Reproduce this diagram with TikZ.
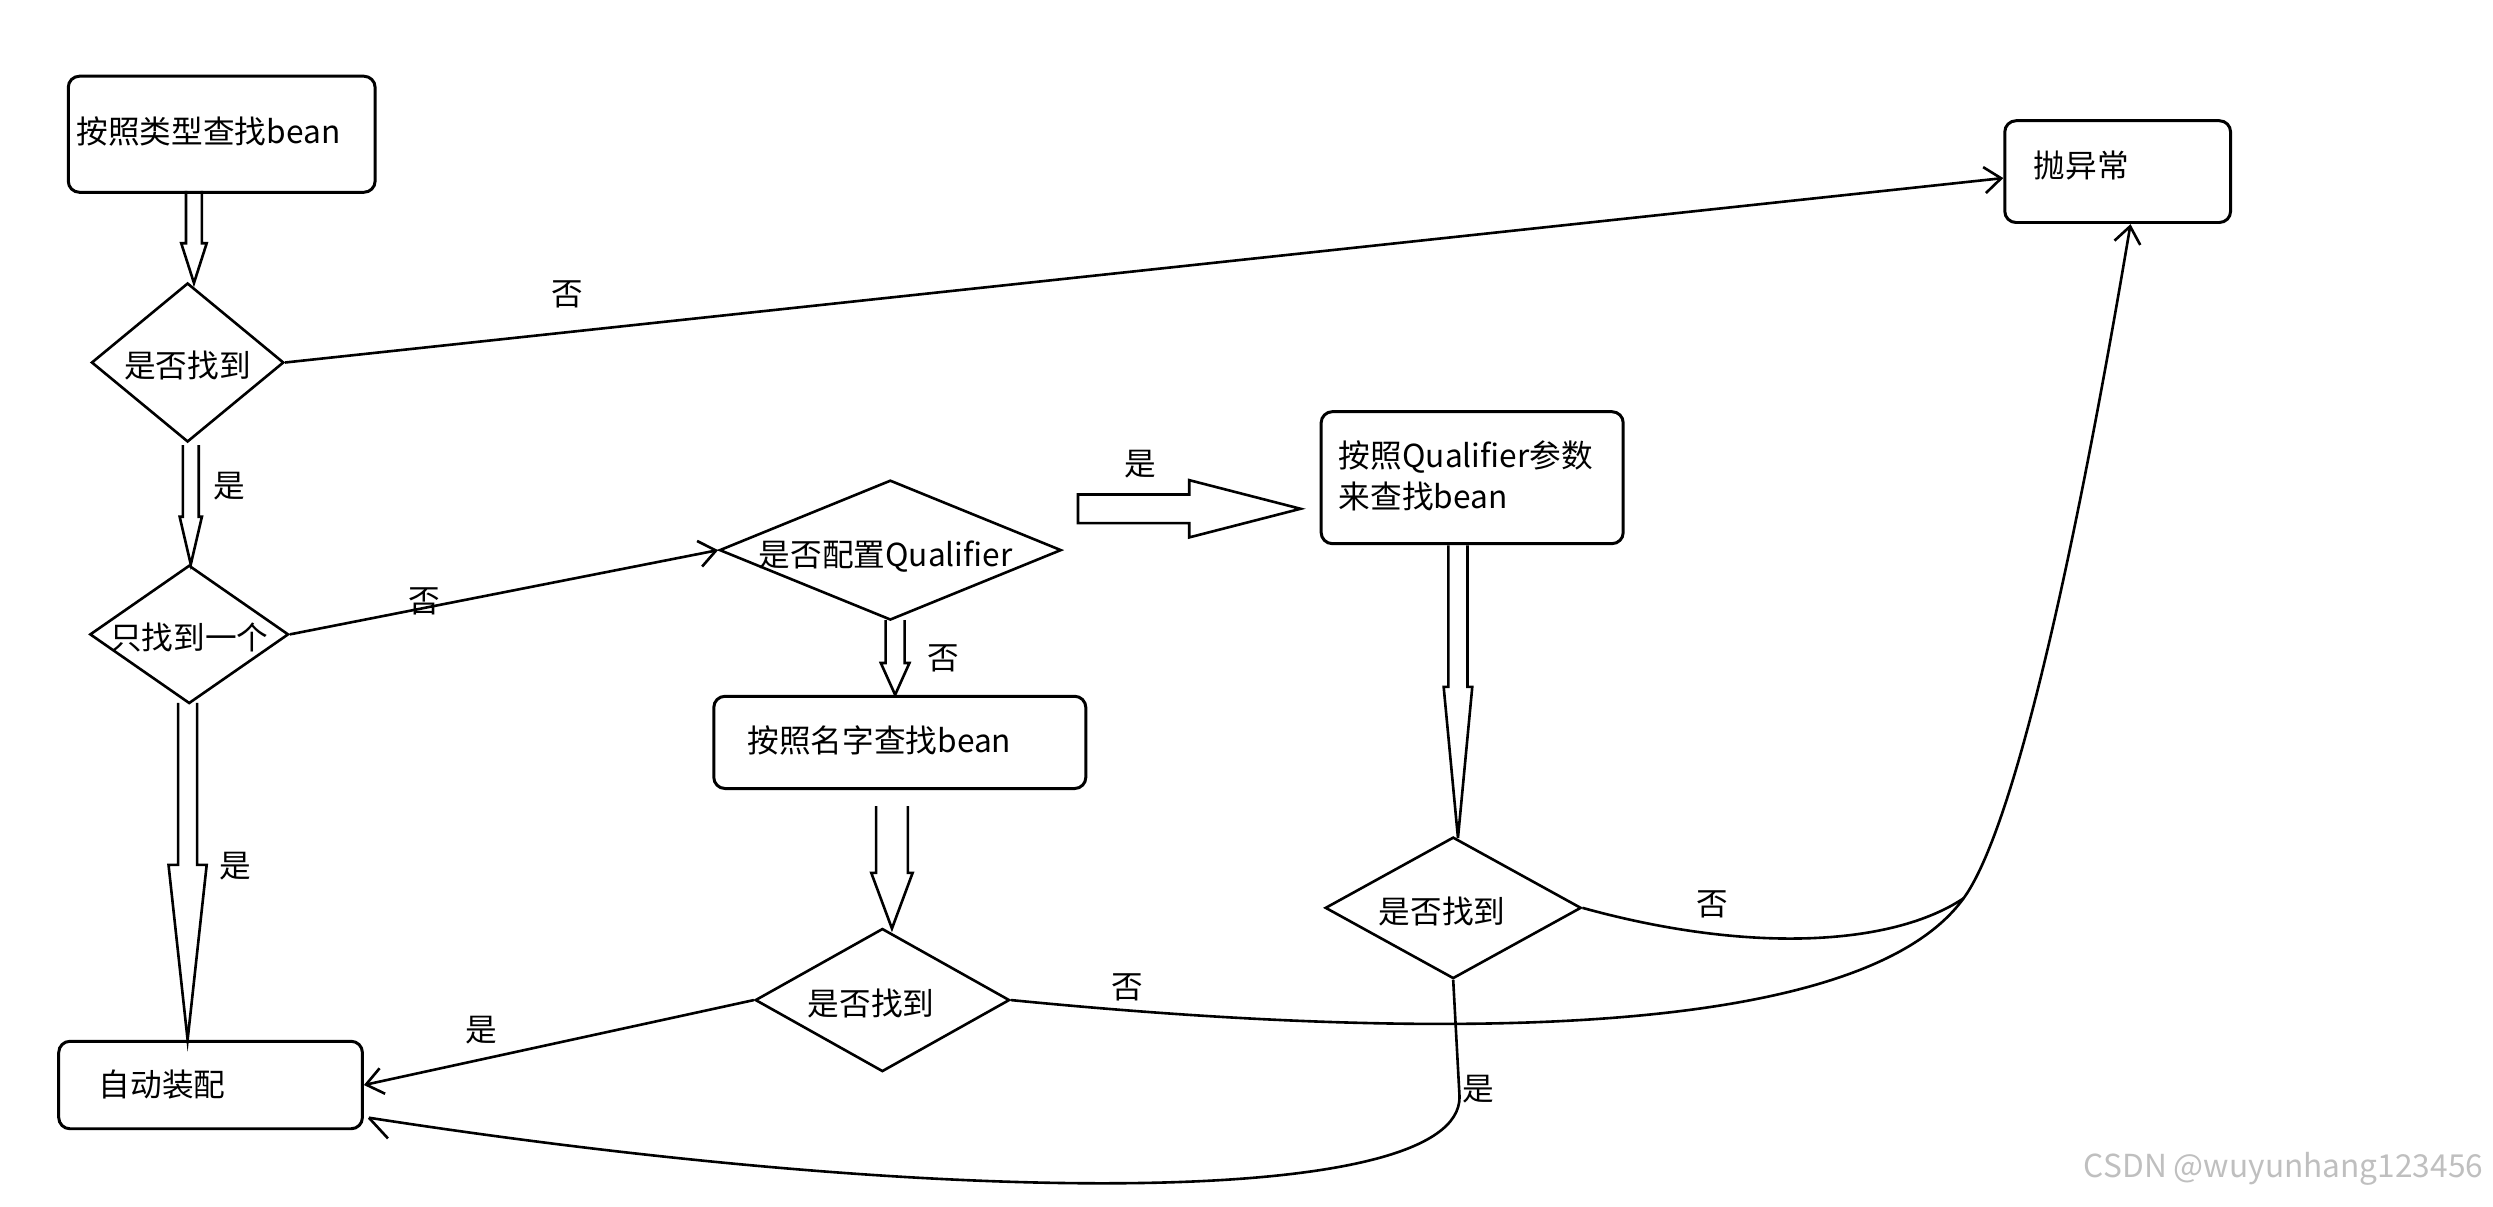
\documentclass[tikz,border=0pt]{standalone}
\usepackage{fontspec}
\setmainfont{Noto Sans CJK SC}
\usetikzlibrary{shapes.geometric,arrows.meta}

% hollow block arrow pointing down: x, top y, bottom y, shaft half, head half, head length
\newcommand\fatdown[6]{%
\draw[fat] (#1-#4,#2) -- (#1-#4,#3-#6) -- (#1-#5,#3-#6) -- (#1,#3) -- (#1+#5,#3-#6) -- (#1+#4,#3-#6) -- (#1+#4,#2);}

\begin{document}
\begin{tikzpicture}[x=0.03cm,y=-0.03cm,
  box/.style={draw,line width=1.6pt,rounded corners=6pt,anchor=north west,inner sep=0pt},
  dia/.style={draw,diamond,line width=1.4pt,inner sep=0pt},
  txt/.style={font=\fontsize{17}{22}\selectfont},
  fat/.style={line width=1.4pt},
  line/.style={line width=1.4pt,-{Straight Barb[length=9pt,width=14pt]}}]
\useasboundingbox (0,0) rectangle (1568,759);

% boxes
\node[box,minimum width=193*0.03cm,minimum height=73*0.03cm] (type) at (42,47) {};
\node[txt,anchor=west] at (44,83) {按照类型查找bean};
\node[box,minimum width=142*0.03cm,minimum height=64*0.03cm] (err) at (1260,75) {};
\node[txt,anchor=west] at (1275,104) {抛异常};
\node[box,minimum width=190*0.03cm,minimum height=83*0.03cm] (qbox) at (830,258) {};
\node[txt,anchor=west,align=left] at (838,299) {按照Qualifier参数\\来查找bean};
\node[box,minimum width=234*0.03cm,minimum height=58*0.03cm] (name) at (448,437) {};
\node[txt,anchor=west] at (466,466) {按照名字查找bean};
\node[box,minimum width=191*0.03cm,minimum height=55*0.03cm] (auto) at (36,654) {};
\node[txt,anchor=west] at (58,682) {自动装配};

% diamonds
\node[dia,minimum width=121*0.03cm,minimum height=100*0.03cm] (found1) at (118,228) {};
\node[txt] at (118,230) {是否找到};
\node[dia,minimum width=125*0.03cm,minimum height=87*0.03cm] (one) at (119,399) {};
\node[txt] at (119,401) {只找到一个};
\node[dia,minimum width=215*0.03cm,minimum height=88*0.03cm] (qual) at (560,346) {};
\node[txt] at (557,350) {是否配置Qualifier};
\node[dia,minimum width=160*0.03cm,minimum height=90*0.03cm] (found2) at (555,629) {};
\node[txt] at (548,631) {是否找到};
\node[dia,minimum width=161*0.03cm,minimum height=89*0.03cm] (found3) at (914,571) {};
\node[txt] at (907,573) {是否找到};

% block arrows
\fatdown{122}{120}{178}{5}{8}{25}
\fatdown{120}{280}{355}{5}{7}{30}
\fatdown{118}{442}{654}{6}{12}{110}
\fatdown{563}{390}{437}{6}{9}{20}
\fatdown{561}{507}{584}{10}{13}{35}
\fatdown{917}{343}{527}{6}{9}{95}
\draw[fat] (678,311) -- (748,311) -- (748,302) -- (818,320) -- (748,338) -- (748,329) -- (678,329) -- cycle;

% thin connectors
\coordinate (join) at (1235,565);
\coordinate (errin) at (1340,141);
\draw[line] (found1.east) -- (err.west |- 0,112);
\draw[line] (one.east) -- (qual.west);
\draw[line] (found2.west) -- (auto.east);
\draw[line] (found2.east) .. controls (900,655) and (1170,655) .. (join) .. controls (1275,510) and (1320,260) .. (errin);
\draw[line width=1.4pt] (found3.east) .. controls (1100,600) and (1190,595) .. (join);
\draw[line width=1.4pt] (found3.south) -- (918,690) .. controls (918,760) and (600,760) .. (232,703);
\draw[line width=1.4pt] (232,703) -- (244,716);

% labels
\node[txt] at (357,185) {否};
\node[txt] at (144,306) {是};
\node[txt] at (267,378) {否};
\node[txt] at (148,545) {是};
\node[txt] at (717,292) {是};
\node[txt] at (593,414) {否};
\node[txt] at (709,621) {否};
\node[txt] at (303,648) {是};
\node[txt] at (1077,569) {否};
\node[txt] at (930,685) {是};
\node[txt,text=black!25,anchor=east] at (1566,735) {CSDN @wuyunhang123456};
\end{tikzpicture}
\end{document}
